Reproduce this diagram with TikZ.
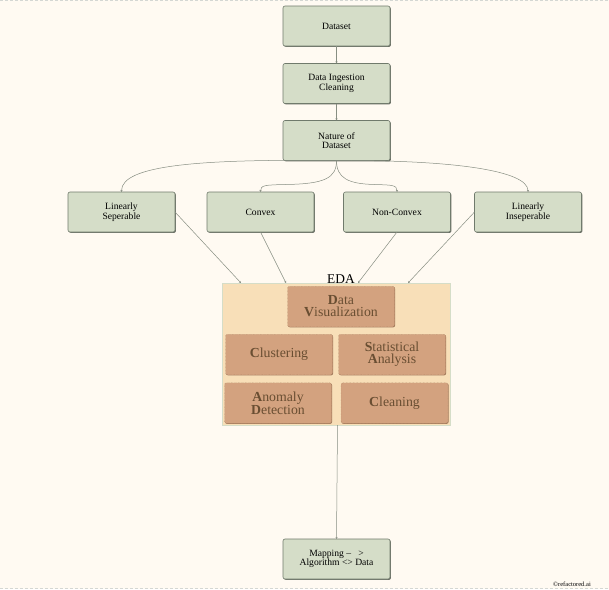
\documentclass[tikz,border=0pt]{standalone}
\usepackage{fontspec}
\setmainfont{Liberation Serif}
\usepackage{tikz}
\usetikzlibrary{positioning,shadows,arrows.meta}
\definecolor{mypaper}{RGB}{255,250,242}
\definecolor{mygreen}{RGB}{213,221,200}
\definecolor{myedge}{RGB}{112,122,108}
\definecolor{mylink}{RGB}{135,142,130}
\definecolor{myshadow}{RGB}{105,110,100}
\definecolor{mysand}{RGB}{248,223,184}
\definecolor{myclay}{RGB}{211,162,127}
\definecolor{myclayedge}{RGB}{158,118,88}
\definecolor{mybrown}{RGB}{105,78,50}
\newcommand{\capbold}[1]{\textbf{#1}}

\begin{document}
\begin{tikzpicture}[x=1pt,y=-1pt,
  stepbox/.style={draw=myedge,fill=mygreen,rounded corners=2pt,line width=.6pt,
    minimum width=107pt,minimum height=40pt,align=center,outer sep=0pt,
    font=\fontsize{9.6}{9.4}\selectfont,
    drop shadow={shadow xshift=.9pt,shadow yshift=-.9pt,fill=myshadow,opacity=1}},
  edabox/.style={draw=myclayedge,densely dotted,fill=myclay,rounded corners=2pt,line width=.4pt,
    minimum width=107pt,minimum height=40.5pt,align=center,outer sep=0pt,text=mybrown,
    font=\fontsize{13.8}{12}\selectfont,
    drop shadow={shadow xshift=.6pt,shadow yshift=-.6pt,fill=myclayedge,opacity=1}},
  link/.style={draw=mylink,line width=.5pt},
  tiplink/.style={link,-{Stealth[length=2pt,width=2pt]}}]

  \fill[mypaper] (0,0) rectangle (609,589);
  \useasboundingbox (0,0) rectangle (609,589);
  \coordinate (topl) at (0,.5);
  \coordinate (topr) at (609,.5);
  \coordinate (botl) at (0,588.5);
  \coordinate (botr) at (609,588.5);
  \draw[myedge!30,densely dashed,line width=.4pt] (topl) -- (topr) (botl) -- (botr);

  \node[stepbox] (dataset) at (336.5,26) {Dataset};
  \node[stepbox,below=17.5pt of dataset] (ingest) {Data Ingestion\\Cleaning};
  \node[stepbox,below=17pt of ingest] (nature) {Nature of\\Dataset};

  \node[stepbox] (sep) at (121.5,212) {Linearly\\Seperable};
  \node[stepbox] (convex) at (260.5,212) {Convex};
  \node[stepbox] (nonconvex) at (397,212) {Non-Convex};
  \node[stepbox] (insep) at (528,212) {Linearly\\Inseperable};

  \node[fill=mysand,draw=mygreen,line width=.4pt,minimum width=228pt,minimum height=142pt,
    outer sep=0pt] (eda) at (336,354) {};
  \node[above=-1.5pt of eda.north,xshift=5pt,font=\fontsize{13.4}{14}\selectfont,inner sep=1pt] (edalabel) {EDA};

  \node[edabox] (viz) at (341,306.5) {\capbold{D}ata\\\capbold{V}isualization};
  \node[edabox] (clust) at (279,354.5) {\capbold{C}lustering};
  \node[edabox] (stat) at (392,354.5) {\capbold{S}tatistical\\\capbold{A}nalysis};
  \node[edabox] (anom) at (278,403) {\capbold{A}nomaly\\\capbold{D}etection};
  \node[edabox] (clean) at (394.5,403) {\capbold{C}leaning};

  \node[stepbox] (mapping) at (336.5,559) {Mapping -- \ \ >\\Algorithm <> Data};
  \node[font=\fontsize{6.5}{7}\selectfont,inner sep=0pt] (credit) at (572,584.5) {\textcopyright refactored.ai};

  \coordinate (edaa) at (241,283);
  \coordinate (edab) at (286,283);
  \coordinate (edac) at (358,283);
  \coordinate (edad) at (408,283);
  \coordinate (edae) at (337.5,425);

  \draw[tiplink] (dataset) -- (ingest);
  \draw[tiplink] (ingest) -- (nature);
  \draw[tiplink] (nature.south) .. controls (200,159) and (121.5,165) .. (sep.north);
  \draw[tiplink] (nature.south) .. controls (336.5,178) and (325,184) .. (285,184.5)
    .. controls (266,185) and (260.5,185) .. (convex.north);
  \draw[tiplink] (nature.south) .. controls (336.5,178) and (348,184) .. (375,184.5)
    .. controls (392,185) and (397,185) .. (nonconvex.north);
  \draw[tiplink] (nature.south) .. controls (450,160) and (528,170) .. (insep.north);

  \draw[tiplink] (sep.east) -- (edaa);
  \draw[tiplink] (convex.south) -- (edab);
  \draw[tiplink] (nonconvex.south) -- (edac);
  \draw[tiplink] (insep.west) -- (edad);
  \draw[tiplink] (edae) -- (mapping.north);
\end{tikzpicture}
\end{document}
